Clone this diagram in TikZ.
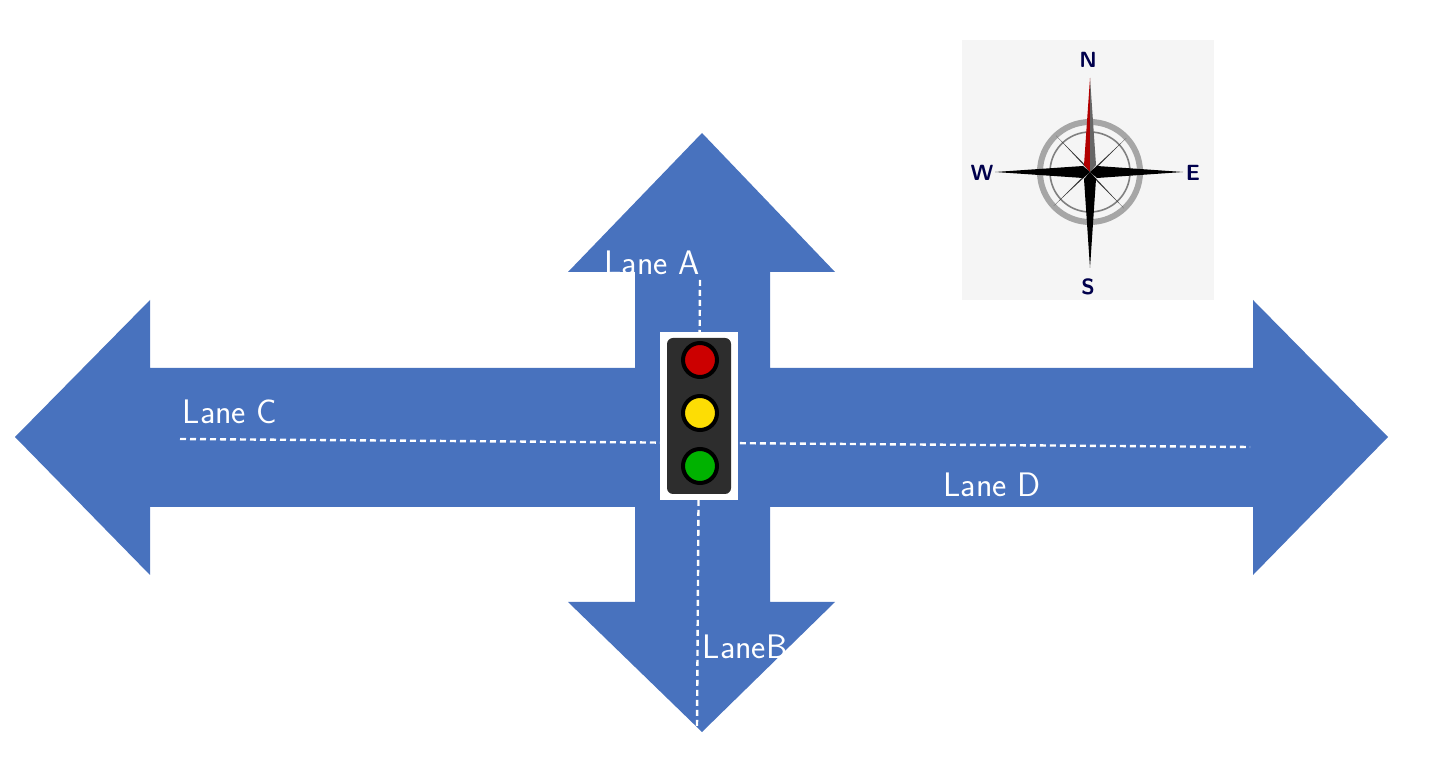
\documentclass[tikz,border=0pt]{standalone}
\usepackage{tikz}
\usetikzlibrary{positioning}
\definecolor{roadblue}{RGB}{72,114,190}
\definecolor{housing}{RGB}{45,45,45}
\tikzset{
  lanelabel/.style={text=white, font=\sffamily\fontsize{17}{17}\selectfont},
  laneline/.style={white, dashed, dash pattern=on 3pt off 2pt, line width=1.2pt},
  lamp/.style={circle, minimum size=17pt, inner sep=0pt, draw=black, line width=2pt},
  dirlabel/.style={text=blue!30!black, font=\sffamily\bfseries\fontsize{11}{11}\selectfont}
}
\begin{document}
\begin{tikzpicture}[x=0.5pt, y=-0.5pt]
  \useasboundingbox (0,0) rectangle (1446,758);
  % road arrows
  \fill[roadblue] (15,437) -- (150,300) -- (150,368) -- (635,368) -- (635,272) -- (568,272)
    -- (702,133) -- (835,272) -- (770,272) -- (770,368) -- (1253,368) -- (1253,300)
    -- (1388,437) -- (1253,575) -- (1253,507) -- (770,507) -- (770,602) -- (835,602)
    -- (702,732) -- (568,602) -- (635,602) -- (635,507) -- (150,507) -- (150,575) -- cycle;
  % lane markings
  \coordinate (cw) at (180,439);
  \coordinate (de) at (1250,447);
  \coordinate (an) at (700,280);
  \coordinate (bs) at (697,728);
  \draw[laneline] (cw) -- (de);
  \draw[laneline] (an) -- (bs);
  \node[lanelabel] (lanea) at (652,263) {Lane A};
  \node[lanelabel] (lanec) at (230,412) {Lane C};
  \node[lanelabel] (laned) at (992,485) {Lane D};
  \node[lanelabel] (laneb) at (745,647) {LaneB};
  % traffic light
  \node[fill=white, minimum width=39pt, minimum height=84pt, inner sep=0pt] (signal) at (699,416) {};
  \node[fill=housing, rounded corners=3pt, minimum width=32pt, minimum height=78pt, inner sep=0pt] (box) at (699,416) {};
  \node[lamp, fill=red!80!black] (red) at (700,360) {};
  \node[lamp, fill=yellow!80!orange] (amber) at (700,413) {};
  \node[lamp, fill=green!70!black] (green) at (700,466) {};
  % compass
  \node[fill=gray!8, minimum width=126pt, minimum height=130pt, inner sep=0pt] (compass) at (1088,170) {};
  \coordinate (c) at (1090,172);
  \draw[gray!70, line width=3pt] (c) circle (50);
  \draw[gray, line width=0.8pt] (c) circle (40);
  \foreach \a in {45,135,225,315}
    \fill[black!80] (c) -- ++(\a+8:12) -- ++(\a:38) -- cycle;
  \fill[red!70!black] (c) -- (1084,165) -- (1090,78) -- cycle;
  \fill[black!60] (c) -- (1096,165) -- (1090,78) -- cycle;
  \fill[black] (c) -- (1084,179) -- (1090,268) -- (1096,179) -- cycle;
  \fill[black] (c) -- (1097,166) -- (1183,172) -- (1097,178) -- cycle;
  \fill[black] (c) -- (1083,166) -- (995,172) -- (1083,178) -- cycle;
  \node[dirlabel] (n) at (1088,60) {N};
  \node[dirlabel] (s) at (1088,287) {S};
  \node[dirlabel] (w) at (982,173) {W};
  \node[dirlabel] (e) at (1193,173) {E};
\end{tikzpicture}
\end{document}
